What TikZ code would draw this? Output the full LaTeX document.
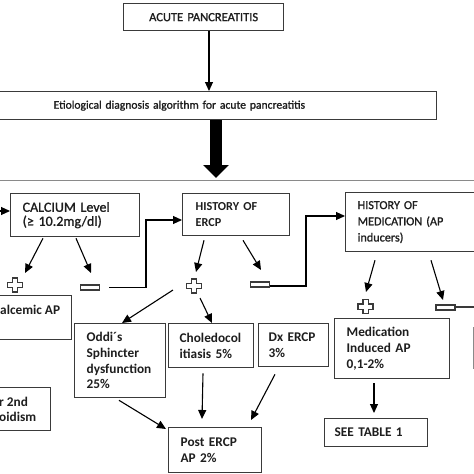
\documentclass[tikz,border=0pt]{standalone}
\usepackage{fontspec}
\setmainfont{Carlito}
\newfontfamily\semib[FakeBold=1.2]{Carlito}
\usetikzlibrary{arrows.meta}
\definecolor{boxc}{HTML}{3A3A3A}
\definecolor{framec}{HTML}{8A8A8A}
\definecolor{txtc}{HTML}{1E1E1E}
\begin{document}
\begin{tikzpicture}[x=1pt,y=-1pt,
  box/.style={draw=boxc, line width=1.3pt, anchor=north west, inner ysep=0pt,
    align=left, text=txtc, font=\semib\fontsize{12.5}{17}\selectfont},
  lbox/.style={box, font=\bfseries\fontsize{13.3}{15.7}\selectfont},
  plain/.style={inner sep=0pt, text=txtc},
  arr/.style={draw=black, line width=1.1pt, -{Triangle[length=9pt,width=8pt]}},
  conn/.style={draw=boxc, line width=1.2pt},
  sign/.style={draw=boxc, line width=1.2pt, fill=white},
  plussign/.pic={\draw[sign] (-2.6,-7)--(2.6,-7)--(2.6,-2.6)--(7.5,-2.6)--(7.5,2.6)--(2.6,2.6)--(2.6,7)--(-2.6,7)--(-2.6,2.6)--(-7.5,2.6)--(-7.5,-2.6)--(-2.6,-2.6)--cycle;},
  minussign/.pic={\draw[sign] (-9.5,-2.5) rectangle (9.5,2.5);}
]
\useasboundingbox (0,0) rectangle (474,474);
\fill[white] (0,0) rectangle (474,474);

% top boxes
\node[box, align=center, minimum width=160pt, minimum height=27pt, text width=140pt, inner xsep=10pt,
  font=\semib\fontsize{12.5}{14}\selectfont] (acute) at (123,3) {ACUTE PANCREATITIS};
\node[box, minimum width=446pt, minimum height=28pt, text width=320pt, inner xsep=63pt,
  font=\semib\fontsize{11.6}{14}\selectfont] (etio) at (-10,91) {Etiological diagnosis algorithm for acute pancreatitis};

\draw[arr] (acute.south -| 209,0) -- (etio.north -| 209,0);
\draw[line width=12pt, -{Triangle[length=13pt,width=25pt]}] (etio.south -| 216,0) -- (216,178);
\coordinate (fl) at (0,180.5);
\coordinate (fr) at (474,180.5);
\draw[framec, line width=1pt] (fl) -- (fr);

% second row
\node[box, minimum width=129pt, minimum height=43pt, text width=105pt, inner xsep=12pt,
  font=\semib\fontsize{14}{14}\selectfont] (calc) at (10,193) {CALCIUM Level\\(≥ 10.2mg/dl)};
\node[box, minimum width=107pt, minimum height=42pt, text width=81pt, inner xsep=13pt,
  font=\bfseries\fontsize{12.2}{15.5}\selectfont] (ercp) at (182,193) {HISTORY OF\\ERCP};
\node[box, minimum width=150pt, minimum height=59pt, text width=126pt, inner xsep=12pt,
  font=\semib\fontsize{12.2}{16.2}\selectfont] (med) at (345,192) {HISTORY OF\\MEDICATION (AP\\inducers)};

% signs
\coordinate (cp) at (15,285);
\coordinate (cm) at (90,287.5);
\coordinate (ep) at (194,286);
\coordinate (em) at (260,284.5);
\coordinate (mp) at (365.5,306.5);
\coordinate (mm) at (445.5,307.5);
\pic at (cp) {plussign};
\pic at (cm) {minussign};
\pic at (ep) {plussign};
\pic at (em) {minussign};
\pic at (mp) {plussign};
\pic at (mm) {minussign};

% arrow into calcium
\coordinate (lin) at (-5,211);
\draw[arr] (lin) -- (lin -| calc.west);

% arrows from calcium
\coordinate (cpT) at (25,273);
\coordinate (cmT) at (91,273);
\draw[arr] ([xshift=33pt,yshift=-1pt]calc.south west) -- (cpT);
\draw[arr] ([xshift=66pt,yshift=-1pt]calc.south west) -- (cmT);
\coordinate (j1) at (146,220);
\draw[arr] ([xshift=19pt]cm) -| (j1) -- (j1 -| ercp.west);

% arrows from ercp
\coordinate (epT) at (196,272);
\coordinate (emT) at (261,270);
\draw[arr] ([xshift=22pt,yshift=-4pt]ercp.south west) -- (epT);
\draw[arr] ([xshift=61pt,yshift=-4pt]ercp.south west) -- (emT);
\coordinate (j2) at (306,216);
\draw[arr] ([xshift=10pt,yshift=-1.5pt]em) -| (j2) -- (j2 -| med.west);

% arrows from medication
\coordinate (mpT) at (366,292);
\coordinate (mmT) at (443,300);
\draw[arr] ([xshift=30pt,yshift=-8pt]med.south west) -- (mpT);
\draw[arr] ([xshift=86pt,yshift=-8pt]med.south west) -- (mmT);
\coordinate (mmR) at (480,307);
\draw[conn] ([xshift=10pt,yshift=0.5pt]mm) -- (mmR);

% left clipped boxes
\node[box, minimum width=131pt, minimum height=44pt] (hyper) at (-60,295) {};
\node[plain, anchor=west, font=\bfseries\fontsize{13.3}{15.7}\selectfont] (hypt) at (0,310) {alcemic AP};
\node[box, minimum width=110pt, minimum height=43pt] (r2) at (-60,387) {};
\node[plain, anchor=west, align=left, font=\bfseries\fontsize{13.3}{15.5}\selectfont] (r2t) at (-1,409.5) {r 2nd\\oidism};

% third row
\node[lbox, minimum width=91pt, minimum height=74pt, text width=67pt, inner xsep=12pt] (oddi) at (74,323) {Oddi´s\\Sphincter\\dysfunction\\25\%};
\node[lbox, minimum width=85pt, minimum height=44pt, text width=63pt, inner xsep=11pt] (chol) at (168,323) {Choledocol\\itiasis 5\%};
\node[lbox, minimum width=70pt, minimum height=43pt, text width=50pt, inner xsep=10pt] (dx) at (258,323) {Dx ERCP\\3\%};
\node[lbox, minimum width=115pt, minimum height=60pt, text width=91pt, inner xsep=12pt] (medind) at (334,318) {Medication\\Induced AP\\0,1-2\%};
\node[box, draw=framec, minimum width=60pt, minimum height=41pt] (rbox) at (473,327) {};

% arrows from ercp plus
\coordinate (epL) at (173,290);
\coordinate (epD) at (200,298);
\draw[arr] (epL) -- ([xshift=48pt]oddi.north west);
\draw[arr] (epD) -- ([xshift=44pt]chol.north west);

% bottom
\node[lbox, minimum width=93pt, minimum height=45pt, text width=69pt, inner xsep=12pt] (post) at (168,427) {Post ERCP\\AP 2\%};
\node[lbox, minimum width=103pt, minimum height=28pt, text width=83pt, inner xsep=10pt] (see) at (324,418) {SEE TABLE 1};

\draw[arr] ([xshift=45pt,yshift=-2pt]oddi.south west) -- ([xshift=-2pt,yshift=-2pt]post.north west);
\draw[arr] ([xshift=35pt,yshift=-5pt]chol.south west) -- ([xshift=34pt,yshift=8pt]post.north west);
\draw[arr] ([xshift=17pt,yshift=-7pt]dx.south west) -- ([xshift=83pt,yshift=7pt]post.north west);
\draw[arr] ([xshift=40pt,yshift=-4pt]medind.south west) -- ([xshift=50pt,yshift=5pt]see.north west);
\end{tikzpicture}
\end{document}
